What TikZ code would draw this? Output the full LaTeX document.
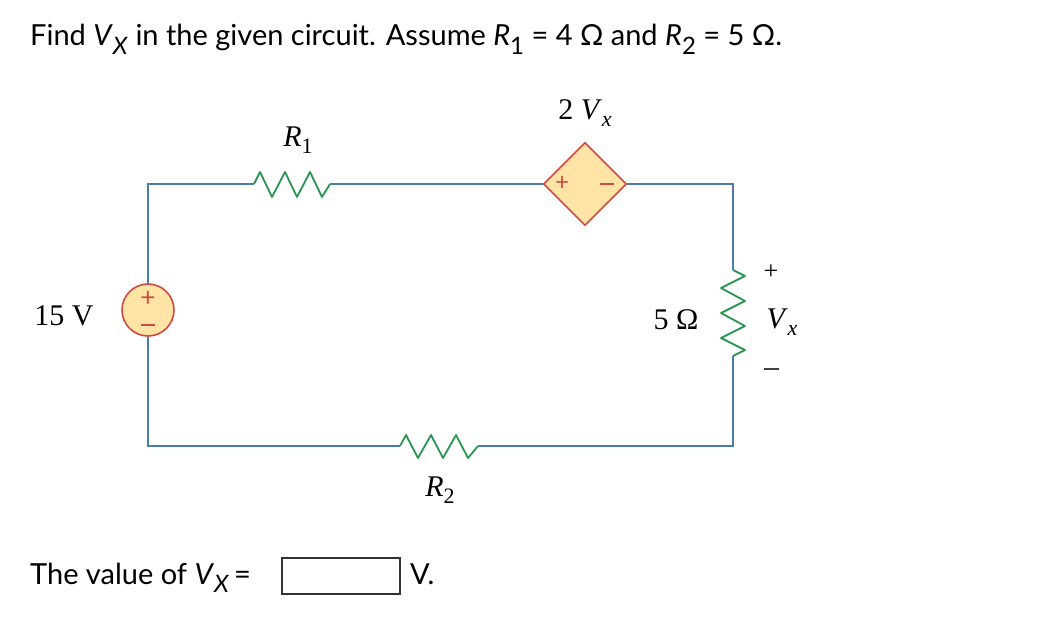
\documentclass[tikz,border=0pt]{standalone}
\usepackage{fontspec}
\setmainfont{Lato}
\newfontfamily\ser{Liberation Serif}
\usetikzlibrary{shapes.geometric}
\definecolor{wire}{RGB}{75,125,170}
\definecolor{res}{RGB}{40,150,80}
\definecolor{src}{RGB}{205,75,65}
\definecolor{srcfill}{RGB}{255,228,165}
\newcommand{\sv}[2]{\textit{#1}\raisebox{-0.3em}{\fontsize{24}{24}\selectfont #2}}
\newcommand{\cv}[2]{\textit{#1}\raisebox{-0.25em}{\fontsize{22}{22}\selectfont #2}}
\begin{document}
\begin{tikzpicture}[x=1pt,y=-1pt,
  w/.style={wire,line width=1.6pt},
  zz/.style={res,line width=1.8pt,line join=round},
  lab/.style={font=\ser\fontsize{30}{32}\selectfont,inner sep=0pt},
  pm/.style={font=\ser\fontsize{26}{28}\selectfont,inner sep=0pt},
  txt/.style={font=\fontsize{29}{32}\selectfont,anchor=base west,inner sep=0pt}]
\useasboundingbox (0,0) rectangle (1060,644);
\coordinate (tl) at (148,184); \coordinate (tr) at (733,184);
\coordinate (bl) at (148,446); \coordinate (br) at (733,446);
\node[circle,draw=src,fill=srcfill,line width=1.6pt,minimum size=52pt,inner sep=0pt] (vs) at (148,310) {};
\node[text=src,font=\fontsize{26}{26}\selectfont,inner sep=0pt] at (148,299) {+};
\draw[src,line width=1.6pt] (141,325) -- (155,325);
\node[diamond,draw=src,fill=srcfill,line width=1.6pt,minimum width=83pt,minimum height=83pt,inner sep=0pt] (ds) at (585,184) {};
\node[text=src,font=\fontsize{24}{24}\selectfont,inner sep=0pt] at (562,184) {+};
\draw[src,line width=1.6pt] (600,184) -- (614,184);
\coordinate (r1a) at (254,184); \coordinate (r1b) at (330,184);
\coordinate (r2a) at (400,446); \coordinate (r2b) at (478,446);
\coordinate (r3a) at (733,270); \coordinate (r3b) at (733,356);
\draw[w] (vs.north) -- (tl) -- (r1a);
\draw[w] (r1b) -- (ds.west);
\draw[w] (ds.east) -- (tr) -- (r3a);
\draw[w] (r3b) -- (br) -- (r2b);
\draw[w] (r2a) -- (bl) -- (vs.south);
\draw[zz] (r1a) -- (260,172) -- (272,197) -- (285,172) -- (297,197) -- (310,172) -- (322,197) -- (r1b);
\draw[zz] (r2a) -- (406,435) -- (418,458) -- (431,435) -- (443,458) -- (456,435) -- (468,458) -- (r2b);
\draw[zz] (r3a) -- (745,276) -- (721,288) -- (745,301) -- (721,313) -- (745,326) -- (721,338) -- (745,350) -- (r3b);
\node[lab] at (64,316) {15 V};
\node[lab] at (298,140) {\cv{R}{1}};
\node[lab] at (585,113) {2 \cv{V}{\textit{x}}};
\node[lab] at (676,320) {5 Ω};
\node[pm] at (771,272) {+};
\node[lab] at (782,322) {\cv{V}{\textit{x}}};
\draw[line width=1.4pt,black!75] (764,369) -- (779,369);
\node[lab] at (440,490) {\cv{R}{2}};
\node[txt] at (30,46) {Find \sv{V}{\textit{X}} in the given circuit. Assume \sv{R}{1} = 4 Ω and \sv{R}{2} = 5 Ω.};
\node[txt] at (30,584) {The value of \sv{V}{\textit{X}}\,=};
\node[draw=black!80,line width=1.3pt,minimum width=118pt,minimum height=36pt,inner sep=0pt] (box) at (341,576) {};
\node[txt] at (410,584) {V.};
\end{tikzpicture}
\end{document}
